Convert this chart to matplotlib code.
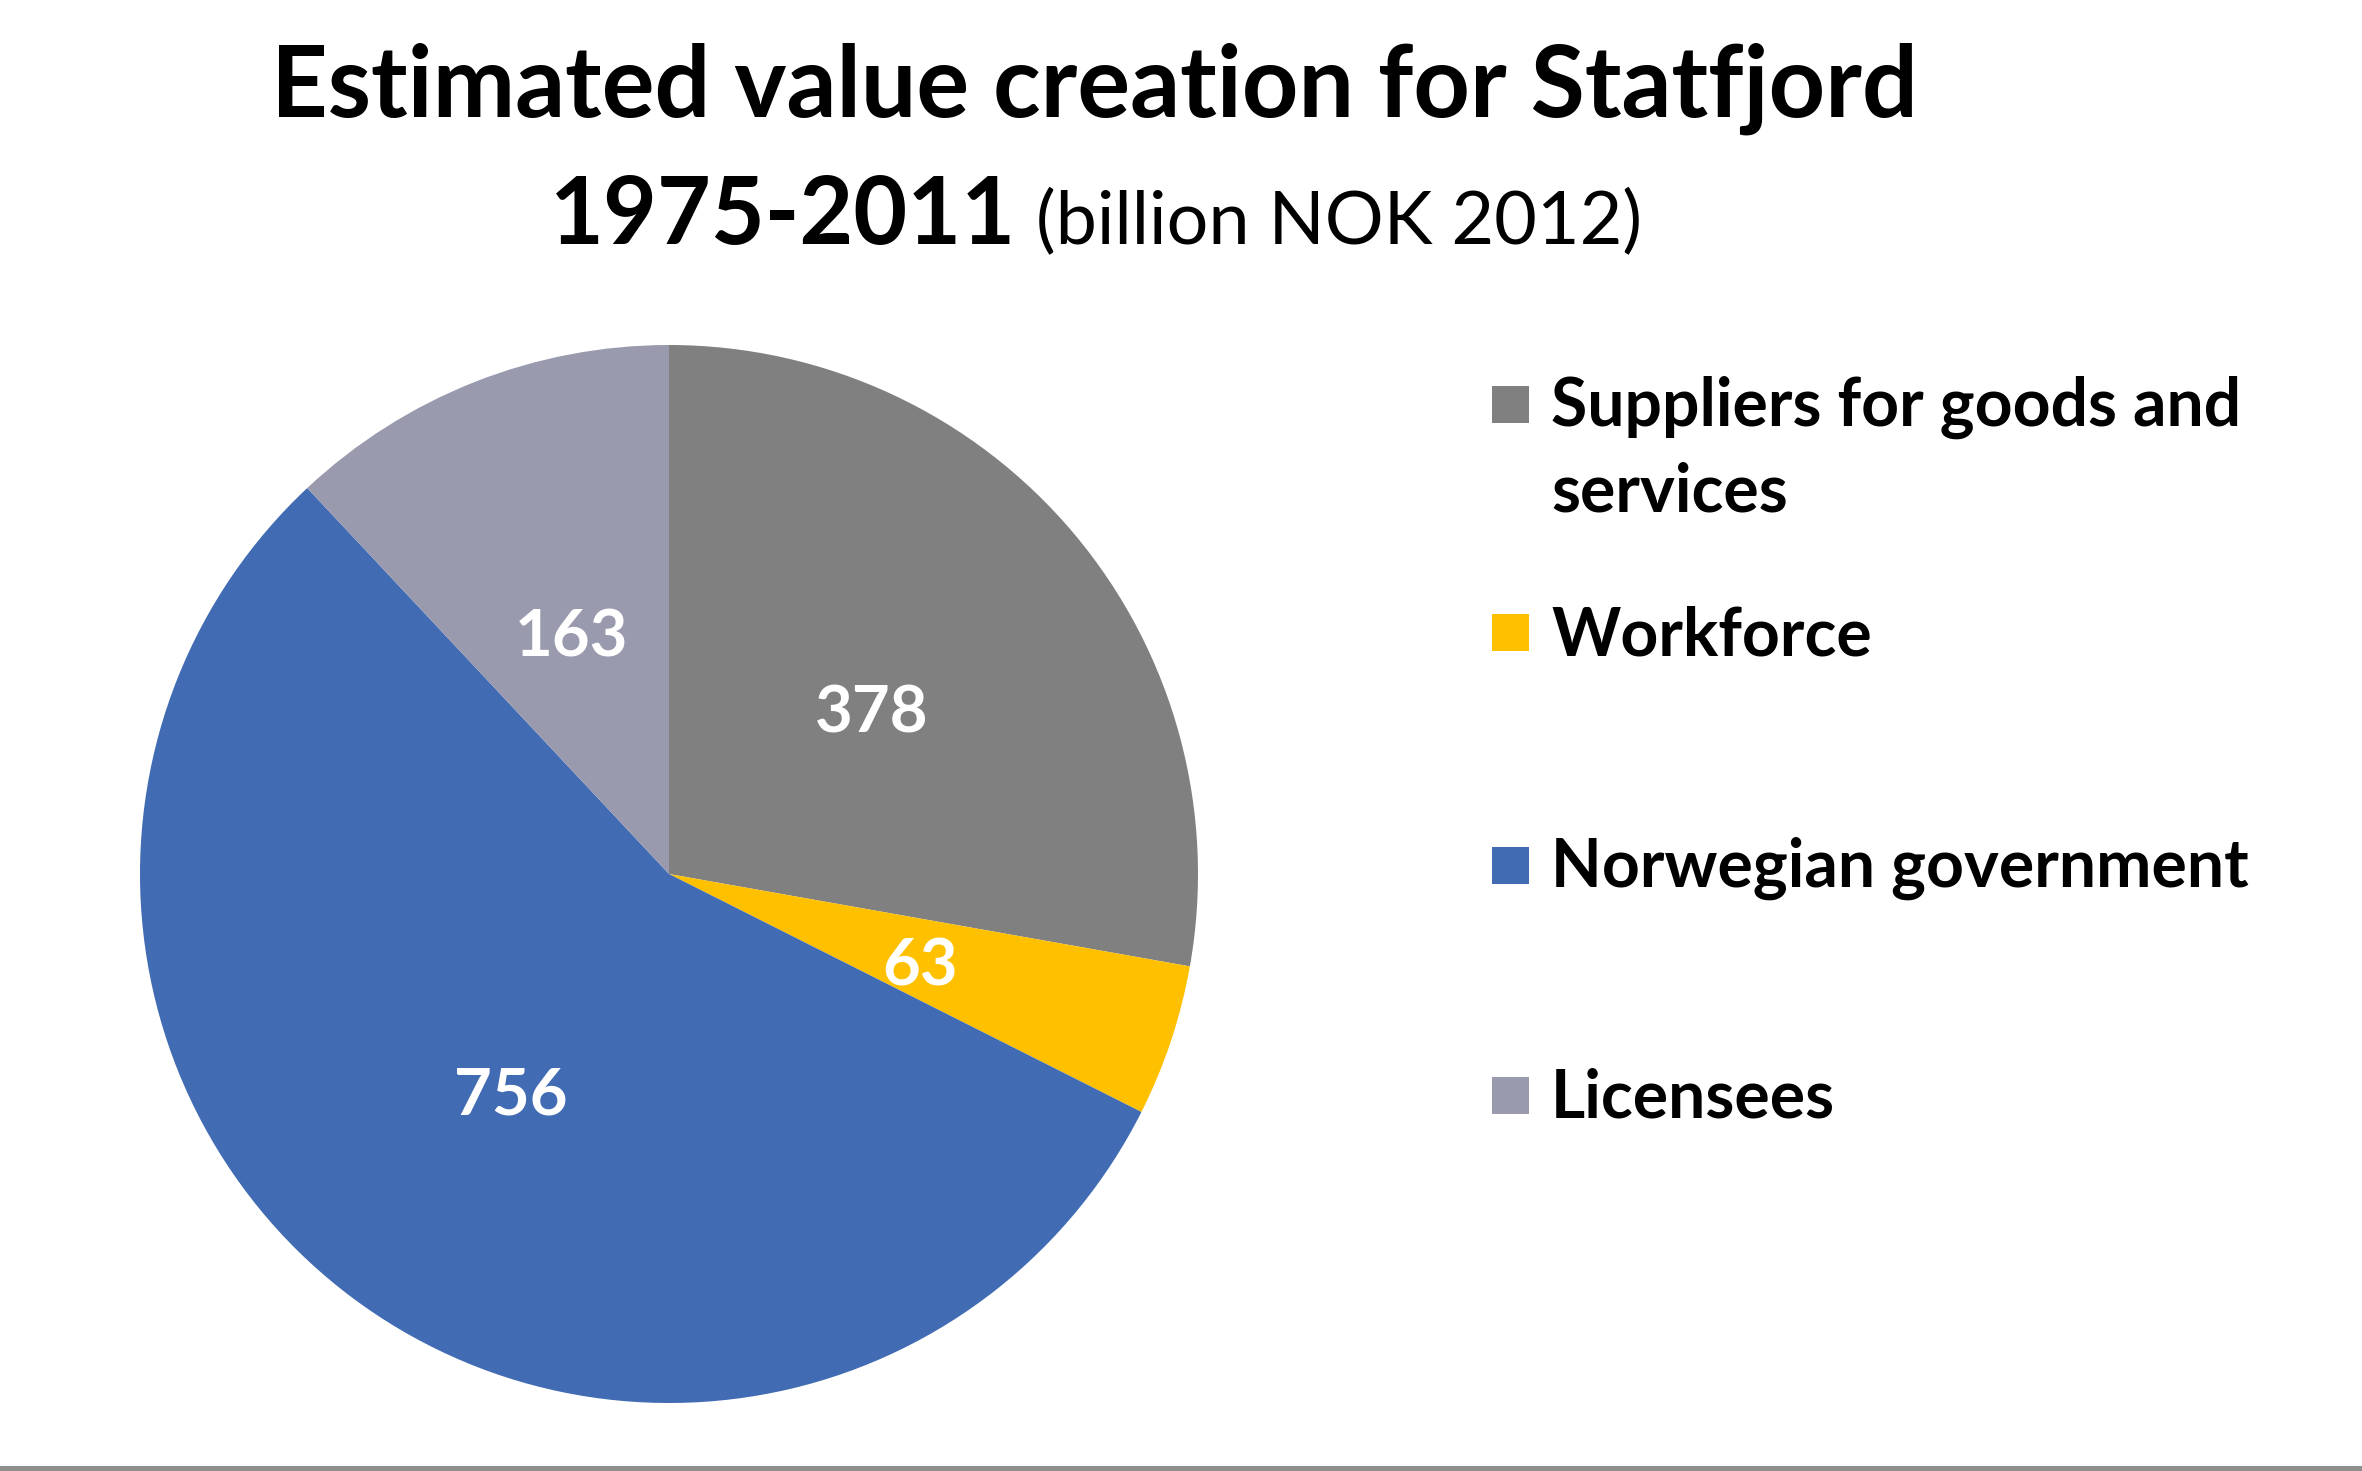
import matplotlib
matplotlib.use("Agg")
import matplotlib.pyplot as plt
from matplotlib.patches import Rectangle

categories = ["Suppliers for goods and\nservices", "Workforce", "Norwegian government", "Licensees"]
values = [378, 63, 756, 163]
colors = ["#808080", "#FFC000", "#416BB3", "#9A9AAF"]

title_line1 = "Estimated value creation for Statfjord"
title_line2_bold = "1975-2011"
title_line2_reg = "(billion NOK 2012)"

W, H = 2362, 1471
DPI = 100
plt.rcParams['font.family'] = ['Lato', 'DejaVu Sans']

fig = plt.figure(figsize=(W / DPI, H / DPI), dpi=DPI)
fig.patch.set_facecolor("white")

def fx(x):
    return x / W

def fy(y):
    return 1 - y / H

# pie axes: center (669, 874), radius 529 px
cx, cy, r = 669, 874, 529
ax = fig.add_axes([fx(cx - r), fy(cy + r), 2 * r / W, 2 * r / H])
labels_iter = iter(values)
wedges, texts, autotexts = ax.pie(
    values, colors=colors, startangle=90, counterclock=False,
    radius=1.0, autopct=lambda p: f"{next(labels_iter)}", pctdistance=0.5,
    wedgeprops=dict(linewidth=0),
    textprops=dict(color="white", fontsize=47, fontweight="bold"))
for t in autotexts:
    t.set_verticalalignment("center_baseline")
    x, y = t.get_position()
    t.set_position((x, y - 0.008))
ax.set_xlim(-1, 1)
ax.set_ylim(-1, 1)
ax.set_aspect("equal")
ax.axis("off")

# titles
fig.text(fx(1094), fy(117), title_line1, ha="center", va="baseline",
         fontsize=71, fontweight="bold", color="black")
fig.text(fx(550), fy(244), title_line2_bold, ha="left", va="baseline",
         fontsize=67, fontweight="bold", color="black")
fig.text(fx(1036), fy(244), title_line2_reg, ha="left", va="baseline",
         fontsize=53, fontweight="normal", color="black")

# legend (manual)
sq = 37
row_centers = [404, 633, 865, 1095]
line_step = 86
for lab, col, yc in zip(categories, colors, row_centers):
    fig.add_artist(Rectangle((fx(1492), fy(yc + sq / 2)), sq / W, sq / H,
                             transform=fig.transFigure, facecolor=col,
                             edgecolor="none"))
    for i, line in enumerate(lab.split("\n")):
        fig.text(fx(1551), fy(yc + 22 + i * line_step), line, ha="left",
                 va="baseline", fontsize=47.5, fontweight="bold", color="black")

# bottom rule
fig.add_artist(Rectangle((0, 0), 1, 5 / H, transform=fig.transFigure,
                         facecolor="#8f8f8f", edgecolor="none"))

fig.savefig("out.png", dpi=DPI, facecolor="white")
